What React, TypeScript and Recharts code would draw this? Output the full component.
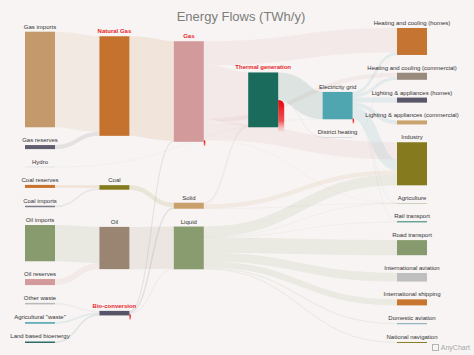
import { Sankey } from "recharts";

const nodeNames = [
  "Gas imports",
  "Gas reserves",
  "Hydro",
  "Coal reserves",
  "Coal imports",
  "Oil imports",
  "Oil reserves",
  "Other waste",
  'Agricultural "waste"',
  "Land based bioenergy",
  "Natural Gas",
  "Coal",
  "Oil",
  "Bio-conversion",
  "Gas",
  "Solid",
  "Liquid",
  "Thermal generation",
  "Electricity grid",
  "District heating",
  "Heating and cooling (homes)",
  "Heating and cooling (commercial)",
  "Lighting & appliances (homes)",
  "Lighting & appliances (commercial)",
  "Industry",
  "Agriculture",
  "Rail transport",
  "Road transport",
  "International aviation",
  "International shipping",
  "Domestic aviation",
  "National navigation",
];

const nodeColors = [
  "#c49a6c", "#5f5d6e", "#9aa8b5", "#c8742f", "#7d7d8a",
  "#879b6e", "#d39a9b", "#b9b9b9", "#4aa0ab", "#2f6d6b",
  "#c6722f", "#847b1c", "#9a8573", "#575467",
  "#d39a9c", "#c9a06c", "#889c6f",
  "#1b6b5d",
  "#4fa6b1", "#9aa8b5",
  "#c67431", "#988b7e", "#5a576b", "#c9a46f", "#857a1d",
  "#8aa070", "#2e8070", "#869a6d", "#bfbfbf", "#c8752f", "#7ba7b4", "#8b7c28",
];

const highlighted = ["Natural Gas", "Gas", "Thermal generation", "Bio-conversion"];

const linkFrom = [
  "Gas imports", "Gas reserves", "Hydro", "Coal reserves", "Coal imports",
  "Oil imports", "Oil reserves", "Other waste", 'Agricultural "waste"', "Land based bioenergy",
  "Natural Gas", "Coal", "Oil", "Bio-conversion", "Bio-conversion", "Bio-conversion",
  "Gas", "Gas", "Gas", "Gas", "Gas",
  "Solid", "Solid", "Solid",
  "Liquid", "Liquid", "Liquid", "Liquid", "Liquid", "Liquid", "Liquid", "Liquid",
  "Thermal generation", "Thermal generation",
  "Electricity grid", "Electricity grid", "Electricity grid", "Electricity grid",
  "Electricity grid", "Electricity grid", "Electricity grid",
  "District heating",
];

const linkTo = [
  "Natural Gas", "Natural Gas", "Electricity grid", "Coal", "Coal",
  "Oil", "Oil", "Bio-conversion", "Bio-conversion", "Bio-conversion",
  "Gas", "Solid", "Liquid", "Gas", "Solid", "Liquid",
  "Heating and cooling (homes)", "Heating and cooling (commercial)", "Thermal generation", "Industry", "Agriculture",
  "Thermal generation", "Industry", "Agriculture",
  "Industry", "Agriculture", "Rail transport", "Road transport",
  "International aviation", "International shipping", "Domestic aviation", "National navigation",
  "Electricity grid", "District heating",
  "Heating and cooling (homes)", "Heating and cooling (commercial)", "Lighting & appliances (homes)",
  "Lighting & appliances (commercial)", "Industry", "Agriculture", "Rail transport",
  "Heating and cooling (homes)",
];

const linkValues = [
  95, 4, 0.2, 3, 1.5,
  36, 6, 1.5, 1.5, 1.5,
  99, 4.5, 42, 1, 1.5, 0.5,
  24, 4, 53, 17, 0.1,
  1.5, 4.4, 0.1,
  10.4, 0.1, 0.5, 15, 8.5, 6, 1, 1,
  27, 0.3,
  2.5, 3, 5, 4, 11, 0.1, 0.5,
  0.3,
];

const data = {
  nodes: nodeNames.map((name) => ({ name })),
  links: linkFrom.map((from, i) => ({
    source: nodeNames.indexOf(from),
    target: nodeNames.indexOf(linkTo[i]),
    value: linkValues[i],
  })),
};

function colorOf(name: string) {
  return nodeColors[nodeNames.indexOf(name)] || "#999";
}

// energy that enters a node but does not leave it (drawn as a red drop-off)
function dropOf(name: string) {
  let inSum = 0;
  let outSum = 0;
  linkFrom.forEach((f, i) => {
    if (f === name) outSum += linkValues[i];
    if (linkTo[i] === name) inSum += linkValues[i];
  });
  if (outSum === 0) return 0;
  return Math.max(0, inSum - outSum);
}

function FlowNode(props: any) {
  const { x, y, width, height, payload } = props;
  const name = payload.name;
  const red = highlighted.includes(name);
  const drop = dropOf(name);
  const dropH = payload.value > 0 ? (height * drop) / payload.value : 0;
  const x0 = x + width;
  const top = y + height - dropH;
  const bottom = y + height + 5;
  const w = Math.min(6, Math.max(1.5, dropH * 0.22));
  const gid = "drop-" + nodeNames.indexOf(name);

  return (
    <g>
      {dropH > 0.3 && (
        <>
          <defs>
            <linearGradient id={gid} x1="0" y1="0" x2="0" y2="1">
              <stop offset="0%" stopColor="#e8000b" stopOpacity={1} />
              <stop offset="65%" stopColor="#f01c1c" stopOpacity={0.75} />
              <stop offset="100%" stopColor="#ff5050" stopOpacity={0} />
            </linearGradient>
          </defs>
          <path
            d={`M${x0},${top} Q${x0 + w},${top} ${x0 + w},${top + w} L${x0 + w},${bottom} L${x0},${bottom} Z`}
            fill={`url(#${gid})`}
          />
        </>
      )}
      <rect x={x} y={y} width={width} height={height} fill={colorOf(name)} />
      <text
        x={x + width / 2}
        y={y - 3}
        textAnchor="middle"
        fontSize={6}
        fontFamily="'Liberation Sans', Arial, sans-serif"
        fontWeight={red ? 700 : 400}
        fill={red ? "#e8262b" : "#333333"}
      >
        {name}
      </text>
    </g>
  );
}

function FlowLink(props: any) {
  const { sourceX, targetX, sourceY, targetY, sourceControlX, targetControlX, linkWidth, payload } = props;
  const src = payload.source;
  const name = typeof src === "object" ? src.name : nodeNames[src];

  return (
    <path
      d={`M${sourceX},${sourceY} C${sourceControlX},${sourceY} ${targetControlX},${targetY} ${targetX},${targetY}`}
      fill="none"
      stroke={colorOf(name)}
      strokeOpacity={0.12}
      strokeWidth={Math.max(linkWidth, 0.6)}
    />
  );
}

export default function App() {
  return (
    <div
      style={{
        position: "absolute",
        left: 0,
        top: 0,
        width: 474,
        height: 355,
        background: "#f7f4f3",
        fontFamily: "'Liberation Sans', Arial, sans-serif",
      }}
    >
      <div
        style={{
          position: "absolute",
          left: 0,
          top: 9,
          width: 482,
          textAlign: "center",
          fontSize: 13,
          color: "#7d7d7d",
        }}
      >
        Energy Flows (TWh/y)
      </div>

      <Sankey
        width={474}
        height={355}
        data={data}
        node={FlowNode}
        link={FlowLink}
        nodeWidth={30}
        nodePadding={17.8}
        iterations={32}
        sort={false}
        margin={{ top: 28, right: 47, bottom: 12, left: 25 }}
      />

      <div
        style={{
          position: "absolute",
          right: 4,
          bottom: 4,
          fontSize: 7,
          color: "#a8a8a8",
          display: "flex",
          alignItems: "center",
          gap: 2,
        }}
      >
        <span
          style={{
            display: "inline-block",
            width: 5,
            height: 5,
            border: "1px solid #b5b5b5",
          }}
        />
        AnyChart
      </div>
    </div>
  );
}
